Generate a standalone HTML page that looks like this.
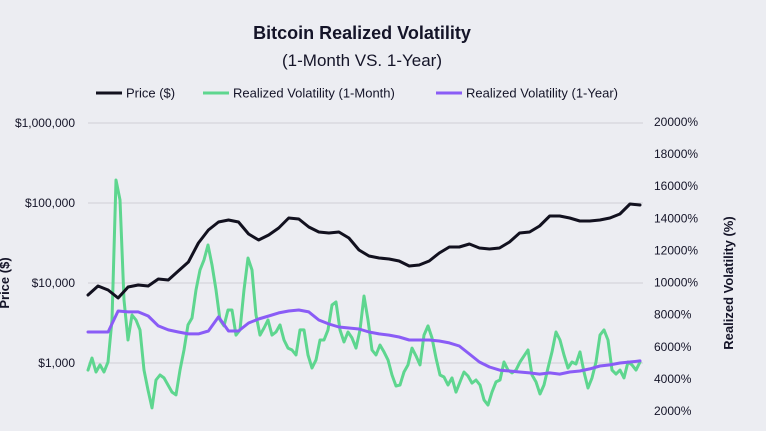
<!DOCTYPE html>
<html><head><meta charset="utf-8"><style>
html,body{margin:0;padding:0;background:#ecedf2;}
svg{display:block;font-family:"Liberation Sans",sans-serif;}
</style></head><body>
<svg id="chart" width="766" height="431" viewBox="0 0 766 431">
<rect width="766" height="431" fill="#ecedf2"/>
<text x="362" y="39" text-anchor="middle" font-size="18" font-weight="bold" fill="#141428">Bitcoin Realized Volatility</text>
<text x="362" y="66" text-anchor="middle" font-size="17" fill="#141428">(1-Month VS. 1-Year)</text>
<g font-size="13" fill="#141428">
<g><line x1="96" y1="93" x2="122" y2="93" stroke="#12111f" stroke-width="3"/><text x="126" y="97.5">Price ($)</text></g>
<g><line x1="203" y1="93" x2="229" y2="93" stroke="#5ed68f" stroke-width="3"/><text x="233" y="97.5">Realized Volatility (1-Month)</text></g>
<g><line x1="436" y1="93" x2="462" y2="93" stroke="#8a5cf6" stroke-width="3"/><text x="466" y="97.5">Realized Volatility (1-Year)</text></g>
</g>
<g id="grid"></g>
<g id="leftAxis"></g>
<g id="rightAxis"></g>
<text transform="translate(9,283) rotate(-90)" text-anchor="middle" font-size="13" font-weight="bold" fill="#141428">Price ($)</text>
<text transform="translate(733,283) rotate(-90)" text-anchor="middle" font-size="13" font-weight="bold" fill="#141428">Realized Volatility (%)</text>
<g id="series"></g>
</svg>
<script>
const priceTicks = [1000, 10000, 100000, 1000000];
const priceTickLabels = ["$1,000", "$10,000", "$100,000", "$1,000,000"];
const volTicks = [2000,4000,6000,8000,10000,12000,14000,16000,18000,20000];
const volTickLabels = ["2000%","4000%","6000%","8000%","10000%","12000%","14000%","16000%","18000%","20000%"];
const priceValues = [7080,9170,8180,6490,8910,9440,9170,11220,10900,14130,18310,31620,45980,57880,61300,57880,40970,34470,39810,48700,64940,63100,50120,43400,42170,43400,36520,25850,21750,20540,19950,18840,16310,16790,18840,23710,28180,28180,30730,27380,26610,27380,32550,42170,43400,51590,68770,68770,64940,59570,59570,61300,64940,72860,97160,94410];
const vol1m = [4550,5300,4430,4870,4430,5050,7670,16390,15150,8920,6420,7980,7670,7050,4550,3310,2190,3930,4240,4060,3620,3180,3000,4550,5800,7360,7790,9540,10780,11410,12340,11100,9540,7670,7300,8290,8290,6730,7050,9540,11530,10780,7980,6730,7170,7670,6730,6920,7360,6420,5920,5800,5490,7050,7050,5490,4680,5180,6420,6420,7050,8600,8790,7050,6300,6920,6550,5920,7050,9160,7670,5800,5490,6110,5680,5180,4240,3560,3620,4430,4870,5920,5430,4870,6730,7300,6550,5300,4240,4120,3620,4060,3180,3810,4430,4180,3740,3930,3620,2690,2370,3180,3810,3930,5050,4550,4370,4550,5050,5430,5800,4240,3810,3060,3620,4680,5680,6920,6420,5490,4680,5050,4930,5680,4430,3430,4060,5050,6730,7050,6420,4550,4300,4550,4060,5050,4870,4550,5050];
const vol1y = [6920,6920,6920,8230,8170,8170,7920,7300,7050,6920,6800,6800,6980,7860,6980,6980,7480,7730,7920,8110,8230,8290,8170,7670,7420,7230,7170,7110,6920,6800,6730,6610,6420,6420,6420,6360,6240,6050,5550,5050,4740,4550,4490,4430,4370,4300,4370,4300,4430,4490,4620,4800,4870,4990,5050,5120];

const X0=88, X1=640;
const yPrice = v => 363 - 80*Math.log10(v/1000);
const yVol = v => 411 - (v-2000)*(289/18000);
const xAt = (i,n) => X0 + (X1-X0)*i/(n-1);
const NS="http://www.w3.org/2000/svg";
function mk(tag, attrs, parent){const e=document.createElementNS(NS,tag);for(const k in attrs)e.setAttribute(k,attrs[k]);parent.appendChild(e);return e;}
const grid=document.getElementById('grid'), la=document.getElementById('leftAxis'), ra=document.getElementById('rightAxis'), ser=document.getElementById('series');
priceTicks.forEach((t,i)=>{
  const y=yPrice(t);
  const g=mk('line',{x1:88,x2:643,y1:y,y2:y,stroke:'#cfd0d6','stroke-width':1},grid);
  
  
  const tx=mk('text',{x:75,y:y+4,'text-anchor':'end','font-size':12,fill:'#141428'},la);
  tx.textContent=priceTickLabels[i];
  
  
});
volTicks.forEach((t,i)=>{
  const y=yVol(t);
  const tx=mk('text',{x:654,y:y+4,'font-size':12,fill:'#141428'},ra);
  tx.textContent=volTickLabels[i];
  
  
});
function line(vals, yf, color, w, name){
  const d=vals.map((v,i)=>(i?'L':'M')+xAt(i,vals.length).toFixed(1)+' '+yf(v).toFixed(1)).join(' ');
  const p=mk('path',{d:d,fill:'none',stroke:color,'stroke-width':w,'stroke-linejoin':'round','stroke-linecap':'round'},ser);
  
  
}
line(vol1m, yVol, '#5ed68f', 3, 'vol-1m-line');
line(vol1y, yVol, '#8a5cf6', 3, 'vol-1y-line');
line(priceValues, yPrice, '#12111f', 3, 'price-line');
</script>
</body></html>
